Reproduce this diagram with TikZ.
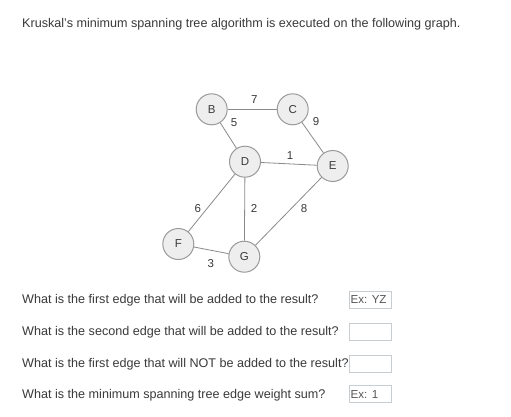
\documentclass[tikz,border=0pt]{standalone}
\usepackage{fontspec}
\setmainfont{Liberation Sans}
\definecolor{txt}{HTML}{3A3A3A}
\definecolor{nodefill}{HTML}{EEEEEE}
\definecolor{nodeline}{HTML}{9A9A9A}
\definecolor{edgecol}{HTML}{8A8A8A}
\definecolor{boxcol}{HTML}{C8CDD2}
\definecolor{hint}{HTML}{555555}
\tikzset{
  vert/.style={circle, draw=nodeline, fill=nodefill, line width=1pt, minimum size=31pt, inner sep=0pt, font=\fontsize{11.5}{13}\selectfont, text=txt},
  edge/.style={draw=edgecol, line width=0.8pt},
  wlabel/.style={font=\fontsize{11.5}{13}\selectfont, text=txt, inner sep=0pt},
  qtext/.style={anchor=west, font=\fontsize{12.6}{14}\selectfont, text=txt, inner sep=0pt},
  ansbox/.style={draw=boxcol, line width=0.8pt, minimum width=42pt, minimum height=16.5pt, inner sep=0pt, anchor=west},
  hinttext/.style={anchor=west, font=\fontsize{11.6}{13}\selectfont, text=hint, inner sep=0pt},
}
\begin{document}
\begin{tikzpicture}[x=1pt,y=-1pt]
\useasboundingbox[fill=white] (0,0) rectangle (511,416);
\node[qtext] (title) at (22,24) {Kruskal's minimum spanning tree algorithm is executed on the following graph.};
% vertices
\node[vert] (B) at (211.7,109.3) {B};
\node[vert] (C) at (292.7,109.3) {C};
\node[vert] (D) at (245,161.7) {D};
\node[vert] (E) at (332.7,166) {E};
\node[vert] (F) at (178.3,244) {F};
\node[vert] (G) at (244.3,256.7) {G};
% edges
\draw[edge] (B) -- (C);
\draw[edge] (B) -- (D);
\draw[edge] (C) -- (E);
\draw[edge] (D) -- (E);
\draw[edge] (D) -- (F);
\draw[edge] (D) -- (G);
\draw[edge] (E) -- (G);
\draw[edge] (F) -- (G);
% weights
\node[wlabel] (w7) at (254.3,100) {7};
\node[wlabel] (w5) at (234,122.7) {5};
\node[wlabel] (w9) at (316,121.7) {9};
\node[wlabel] (w1) at (290,156) {1};
\node[wlabel] (w6) at (197.7,208.3) {6};
\node[wlabel] (w2) at (254,208.3) {2};
\node[wlabel] (w8) at (304,208.3) {8};
\node[wlabel] (w3) at (210.7,263.3) {3};
% questions
\node[qtext] (q1) at (22,300) {What is the first edge that will be added to the result?};
\node[qtext] (q2) at (22,332) {What is the second edge that will be added to the result?};
\node[qtext] (q3) at (22,364) {What is the first edge that will NOT be added to the result?};
\node[qtext] (q4) at (22,395) {What is the minimum spanning tree edge weight sum?};
\node[ansbox] (a1) at (349,300) {};
\node[ansbox] (a2) at (349,332) {};
\node[ansbox] (a3) at (349,363.7) {};
\node[ansbox] (a4) at (349,394) {};
\node[hinttext] (h1) at ([xshift=1.5pt]a1.west) {Ex: YZ};
\node[hinttext] (h4) at ([xshift=1.5pt]a4.west) {Ex: 1};
\end{tikzpicture}
\end{document}
